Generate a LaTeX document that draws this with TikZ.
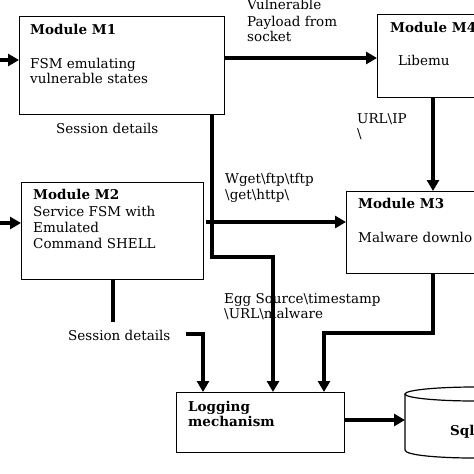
\documentclass[tikz,border=0pt]{standalone}
\usepackage{fontspec}
\setmainfont{DejaVu Serif}
\usetikzlibrary{arrows.meta}
\begin{document}
\begin{tikzpicture}[x=1pt,y=-1pt,
  box/.style={draw,line width=1.2pt,inner sep=0,anchor=north west},
  conn/.style={line width=3.6pt},
  arr/.style={conn,-{Triangle[length=11pt,width=12pt]}},
  t/.style={anchor=base west,inner sep=0,font=\fontsize{13.5}{16}\selectfont},
  tb/.style={t,font=\fontsize{13.5}{16}\selectfont\bfseries}]
\useasboundingbox (0,0) rectangle (474,474);
\clip (0,0) rectangle (474,474);
% boxes
\node[box,minimum width=205pt,minimum height=98pt] (m1) at (19,16) {};
\node[box,minimum width=130pt,minimum height=83pt] (m4) at (377,14) {};
\node[box,minimum width=182pt,minimum height=97pt] (m2) at (21,182) {};
\node[box,minimum width=150pt,minimum height=82pt] (m3) at (346,191) {};
\node[box,minimum width=168pt,minimum height=60pt] (log) at (176,392) {};
% database cylinder
\coordinate (sqlw) at (405,420);
\draw[line width=1.2pt] (475,394) ellipse [x radius=70pt, y radius=7pt];
\draw[line width=1.2pt] (405,394) -- (405,450) .. controls (405,460.7) and (545,460.7) .. (545,450) -- (545,394);
% texts
\node[tb] (m1a) at (30,34) {Module M1};
\node[t] (m1b) at (30,68) {FSM emulating};
\node[t] (m1c) at (30,83) {vulnerable states};
\node[t] (s1) at (56,133) {Session details};
\node[t] (v1) at (247,9) {Vulnerable};
\node[t] (v2) at (247,26) {Payload from};
\node[t] (v3) at (247,41) {socket};
\node[tb] (m4a) at (390,32) {Module M4};
\node[t] (m4b) at (398,65) {Libemu};
\node[t] (u1) at (357,123) {URL\textbackslash IP};
\node[t] (u2) at (357,138) {\textbackslash};
\node[tb] (m2a) at (33,199) {Module M2};
\node[t] (m2b) at (33,216) {Service FSM with};
\node[t] (m2c) at (33,232) {Emulated};
\node[t] (m2d) at (33,248) {Command SHELL};
\node[t] (w1) at (225,183) {Wget\textbackslash ftp\textbackslash tftp};
\node[t] (w2) at (225,199) {\textbackslash get\textbackslash http\textbackslash};
\node[tb] (m3a) at (358,208) {Module M3};
\node[t] (m3b) at (358,242) {Malware downlo};
\node[t] (e1) at (224,303) {Egg Source\textbackslash timestamp};
\node[t] (e2) at (224,318) {\textbackslash URL\textbackslash malware};
\node[t] (s2) at (68,340) {Session details};
\node[tb] (la) at (188,411) {Logging};
\node[tb] (lb) at (188,426) {mechanism};
\node[tb] (sq) at (450,435) {Sql};
% connectors
\coordinate (in1) at (0,60);
\draw[arr] (in1) -- (in1 -| m1.west);
\coordinate (in2) at (0,223);
\draw[arr] (in2) -- (in2 -| m2.west);
\coordinate (p1) at (224,58);
\draw[arr] (p1) -- (p1 -| m4.west);
\coordinate (p2) at (433,0);
\draw[arr] (p2 |- m4.south) -- (p2 |- m3.north);
\coordinate (p3) at (212,257);
\coordinate (p4) at (273,257);
\draw[arr] (p3 |- m1.south) -- (p3) -- (p4) -- (p4 |- log.north);
\coordinate (p5) at (206,222);
\draw[arr] (p5) -- (p5 -| m3.west);
\coordinate (p6) at (113,322);
\draw[conn] (p6 |- m2.south) -- (p6);
\coordinate (p7) at (186,334);
\coordinate (p8) at (203,334);
\draw[arr] (p7) -- (p8) -- (p8 |- log.north);
\coordinate (p9) at (433,333);
\coordinate (p10) at (324,333);
\draw[arr] (p9 |- m3.south) -- (p9) -- (p10) -- (p10 |- log.north);
\coordinate (p11) at (344,420);
\draw[arr] (p11 -| log.east) -- (sqlw);
\end{tikzpicture}
\end{document}
